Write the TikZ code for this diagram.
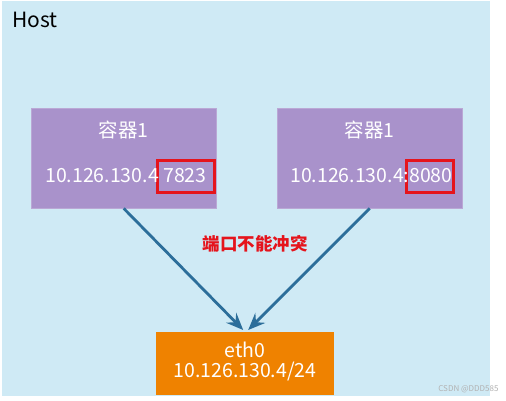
\documentclass[tikz,border=0pt]{standalone}
\usepackage{fontspec}
\setmainfont{Noto Sans CJK SC}
\usepackage{xcolor}
\usepackage{tikz}
\usetikzlibrary{arrows.meta}

\definecolor{hostblue}{HTML}{CFEAF5}
\definecolor{ctrpurple}{HTML}{A992CB}
\definecolor{ethorange}{HTML}{EF8200}
\definecolor{linkblue}{HTML}{2C6E9A}
\definecolor{portred}{HTML}{E5141C}

\tikzset{
  ctrbox/.style={fill=ctrpurple, draw=ctrpurple!80!white, minimum width=185pt, minimum height=100pt, anchor=north west},
  whitetext/.style={text=white, font=\fontsize{19.5}{22}\selectfont, inner sep=0pt},
  portbox/.style={draw=portred, line width=2.6pt, minimum width=57pt, minimum height=32pt, anchor=north west},
  link/.style={draw=linkblue, line width=2.8pt, -{Stealth[length=17pt,width=14pt,inset=6pt]}}
}

\begin{document}
\begin{tikzpicture}[x=1pt,y=-1pt]
    \useasboundingbox (0,0) rectangle (506,401);
    \fill[white] (0,0) rectangle (506,401);
    \node[fill=hostblue, minimum width=488pt, minimum height=395pt, anchor=north west, inner sep=0pt] (host) at (2,1) {};
    \node[anchor=west, inner sep=0pt, font=\fontsize{21}{24}\selectfont] (hostlbl) at (12,20) {Host};

    % two containers
    \node[ctrbox] (ctrA) at (31,108) {};
    \node[ctrbox] (ctrB) at (277,108) {};
    \node[portbox] (portA) at (156,159) {};
    \node[portbox, minimum width=47pt] (portB) at (405,159) {};
    \node[whitetext] (titleA) at (123.5,130) {容器1};
    \node[whitetext] (titleB) at (369.5,130) {容器1};
    \node[whitetext, anchor=west] (ipA) at (45,176) {10.126.130.4 7823};
    \node[whitetext, anchor=west] (ipB) at (290,176) {10.126.130.4:8080};

    % host interface
    \node[fill=ethorange, minimum width=178pt, minimum height=63pt, anchor=north west, inner sep=0pt] (eth) at (156,332) {};
    \node[whitetext] (ethname) at (245,350) {eth0};
    \node[whitetext] (ethip) at (245,372) {10.126.130.4/24};

    \draw[link] (ctrA.south) -- ([xshift=-2pt,yshift=2pt]eth.north);
    \draw[link] (ctrB.south) -- ([xshift=3pt,yshift=2pt]eth.north);
    \node[text=portred, font=\bfseries\fontsize{17.5}{20}\selectfont] (warn) at (255,244) {端口不能冲突};

    \node[text=gray!60, font=\fontsize{8}{9}\selectfont, anchor=east] (mark) at (502,389) {CSDN @DDD585};
\end{tikzpicture}
\end{document}
